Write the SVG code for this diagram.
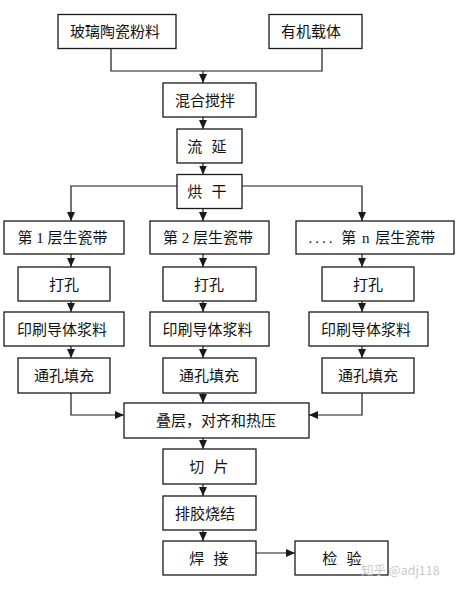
<svg xmlns="http://www.w3.org/2000/svg" width="456" height="592" viewBox="0 0 456 592">
<defs>
<marker id="ah" markerUnits="userSpaceOnUse" markerWidth="9" markerHeight="8" refX="9" refY="4" orient="auto"><path d="M0,0 L9,4 L0,8 z" fill="#1a1a1a"/></marker>
</defs>
<style>
.box rect{fill:#fff;stroke:#1a1a1a;stroke-width:1.3}
.box text{font-family:"Liberation Serif","Noto Sans CJK SC",serif;font-size:15px;fill:#111;text-anchor:middle}
.sp{word-spacing:5.5px}
.conn path{fill:none;stroke:#1a1a1a;stroke-width:1.2}
.arr{marker-end:url(#ah)}
.wm{font-family:"Noto Sans CJK SC","Liberation Sans",sans-serif;font-size:12.5px;fill:#c8c8c8}
</style>
<rect width="456" height="592" fill="#fff"/>
<g id="connectors" class="conn">
<path d="M111,48.5 V71 H322 V48.5"/>
<path class="arr" d="M203,71 V83"/>
<path class="arr" d="M203,117 V129"/>
<path class="arr" d="M203,163 V174.5"/>
<path class="arr" d="M177,186 H71 V221"/>
<path class="arr" d="M242,186 H362 V221"/>
<path class="arr" d="M203,208.5 V221"/>
<path class="arr" d="M71,254 V267"/>
<path class="arr" d="M203,254 V267"/>
<path class="arr" d="M362,254 V267"/>
<path class="arr" d="M71,301 V312"/>
<path class="arr" d="M203,301 V312"/>
<path class="arr" d="M362,301 V312"/>
<path class="arr" d="M71,346 V358"/>
<path class="arr" d="M203,346 V358"/>
<path class="arr" d="M362,346 V358"/>
<path class="arr" d="M71,393 V415 H124"/>
<path class="arr" d="M203,393 V403"/>
<path class="arr" d="M362,393 V415 H309"/>
<path class="arr" d="M203,438 V449"/>
<path class="arr" d="M203,484 V496"/>
<path class="arr" d="M203,530 V541"/>
<path class="arr" d="M256,553 H295"/>
</g>
<g id="n_glass" class="box"><rect x="58" y="14.5" width="118" height="34"/><text x="115" y="37">玻璃陶瓷粉料</text></g>
<g id="n_organic" class="box"><rect x="269" y="14.5" width="93" height="34"/><text x="311" y="37">有机载体</text></g>
<g id="n_mix" class="box"><rect x="163" y="83" width="93" height="34"/><text x="205" y="105.5">混合搅拌</text></g>
<g id="n_cast" class="box"><rect x="177" y="129" width="65" height="34"/><text class="sp" x="207" y="151.5">流 延</text></g>
<g id="n_dry" class="box"><rect x="177" y="174.5" width="65" height="34"/><text class="sp" x="207" y="197">烘 干</text></g>
<g id="n_layer1" class="box"><rect x="4" y="221" width="120" height="33"/><text x="62.5" y="243">第 1 层生瓷带</text></g>
<g id="n_layer2" class="box"><rect x="150" y="221" width="119" height="33"/><text x="208" y="243">第 2 层生瓷带</text></g>
<g id="n_layern" class="box"><rect x="296" y="221" width="158" height="33"/><text x="372" y="243" style="word-spacing:2px"><tspan style="letter-spacing:3px">....</tspan> 第 n 层生瓷带</text></g>
<g id="n_punch1" class="box"><rect x="18" y="267" width="92" height="34"/><text x="64" y="289.5">打孔</text></g>
<g id="n_punch2" class="box"><rect x="163" y="267" width="93" height="34"/><text x="209" y="289.5">打孔</text></g>
<g id="n_punchn" class="box"><rect x="322" y="267" width="92" height="34"/><text x="368" y="289.5">打孔</text></g>
<g id="n_print1" class="box"><rect x="4" y="312" width="120" height="34"/><text x="62" y="334.5">印刷导体浆料</text></g>
<g id="n_print2" class="box"><rect x="150" y="312" width="119" height="34"/><text x="207.5" y="334.5">印刷导体浆料</text></g>
<g id="n_printn" class="box"><rect x="309" y="312" width="119" height="34"/><text x="366" y="334.5">印刷导体浆料</text></g>
<g id="n_fill1" class="box"><rect x="18" y="358" width="92" height="35"/><text x="64" y="381">通孔填充</text></g>
<g id="n_fill2" class="box"><rect x="163" y="358" width="93" height="35"/><text x="209" y="381">通孔填充</text></g>
<g id="n_filln" class="box"><rect x="322" y="358" width="92" height="35"/><text x="368" y="381">通孔填充</text></g>
<g id="n_stack" class="box"><rect x="124" y="403" width="185" height="35"/><text x="216" y="426">叠层，对齐和热压</text></g>
<g id="n_cut" class="box"><rect x="163" y="449" width="93" height="35"/><text class="sp" x="209" y="472">切 片</text></g>
<g id="n_sinter" class="box"><rect x="163" y="496" width="93" height="34"/><text x="205" y="518.5">排胶烧结</text></g>
<g id="n_weld" class="box"><rect x="163" y="541" width="93" height="34"/><text class="sp" x="209" y="563.5">焊 接</text></g>
<g id="n_inspect" class="box"><rect x="295" y="541" width="93" height="34"/><text class="sp" x="342" y="563.5">检 验</text></g>
<text class="wm" x="361" y="575">知乎 @adj118</text>
</svg>
